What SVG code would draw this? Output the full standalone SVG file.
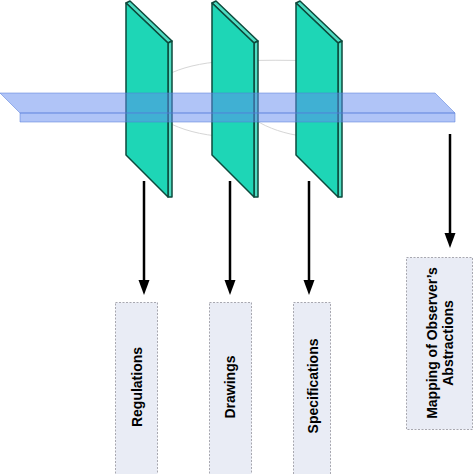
<svg xmlns="http://www.w3.org/2000/svg" width="474" height="474" viewBox="0 0 474 474">
<defs>
<style>
.front{fill:#1ed6b6;stroke:#0d4a3c;stroke-width:1.5;stroke-linejoin:round}
.side{fill:#4fdcc2;stroke:#0d4a3c;stroke-width:1.5;stroke-linejoin:round}
.strip{fill:#6189f0;fill-opacity:0.5;stroke:#4f78d8;stroke-opacity:0.5;stroke-width:1}
.orbit{fill:none;stroke:#d6d6d6;stroke-width:1}
.conn{stroke:#000;stroke-width:2.5;fill:none}
.box{fill:#e9ecf5;stroke:#a8a8b0;stroke-width:1;stroke-dasharray:2 1.5}
.lbl{font-family:"Liberation Sans",Arial,sans-serif;font-weight:bold;font-size:14px;fill:#000;text-anchor:middle}
</style>
<marker id="ah" markerWidth="12" markerHeight="16" refX="6" refY="15" orient="auto-start-reverse" markerUnits="userSpaceOnUse" viewBox="0 0 12 16">
<path d="M0.5,0 L11.5,0 L6,15 Z" fill="#000"/>
</marker>
<g id="panel">
<polygon class="side" points="126,3 130,1 172,41 168,43"/>
<polygon class="side" points="168,43 172,41 172,197 168,197"/>
<polygon class="front" points="126,3 168,43 168,197 126,155"/>
</g>
</defs>
<rect width="474" height="474" fill="#fff"/>
<g id="orbit">
<path class="orbit" d="M318,61 C290,60 260,60 233,61 C185,62 148,78 148,98 C148,118 185,136 233,137"/>
<path class="orbit" d="M233,98 C245,120 280,137 318,137"/>
</g>
<g id="panel-1"><use href="#panel"/></g>
<g id="panel-2"><use href="#panel" transform="translate(86,0)"/></g>
<g id="panel-3"><use href="#panel" transform="translate(170,0)"/></g>
<g id="strip">
<polygon class="strip" points="0,93 435,93 455,113 20,113"/>
<polygon class="strip" points="20,113 455,113 455,122 20,122"/>
</g>
<g id="connectors">
<line class="conn" x1="144" y1="181" x2="144" y2="281"/>
<path d="M138.5,280 L149.5,280 L144,295 Z"/>
<line class="conn" x1="230" y1="181" x2="230" y2="281"/>
<path d="M224.5,280 L235.5,280 L230,295 Z"/>
<line class="conn" x1="309" y1="181" x2="309" y2="281"/>
<path d="M303.5,280 L314.5,280 L309,295 Z"/>
<line class="conn" x1="450" y1="134" x2="450" y2="234"/>
<path d="M444.5,233 L455.5,233 L450,248 Z"/>
</g>
<g id="node-regulations">
<rect class="box" x="115.5" y="302.5" width="42" height="180"/>
<text class="lbl" transform="translate(142,387) rotate(-90)">Regulations</text>
</g>
<g id="node-drawings">
<rect class="box" x="209.5" y="302.5" width="42" height="180"/>
<text class="lbl" transform="translate(235,387) rotate(-90)">Drawings</text>
</g>
<g id="node-specifications">
<rect class="box" x="293.5" y="302.5" width="37" height="180"/>
<text class="lbl" transform="translate(318,386) rotate(-90)">Specifications</text>
</g>
<g id="node-mapping">
<rect class="box" x="406.5" y="257.5" width="66" height="172"/>
<text class="lbl" transform="translate(437,343) rotate(-90)">Mapping of Observer’s</text>
<text class="lbl" transform="translate(453,343) rotate(-90)">Abstractions</text>
</g>
</svg>
